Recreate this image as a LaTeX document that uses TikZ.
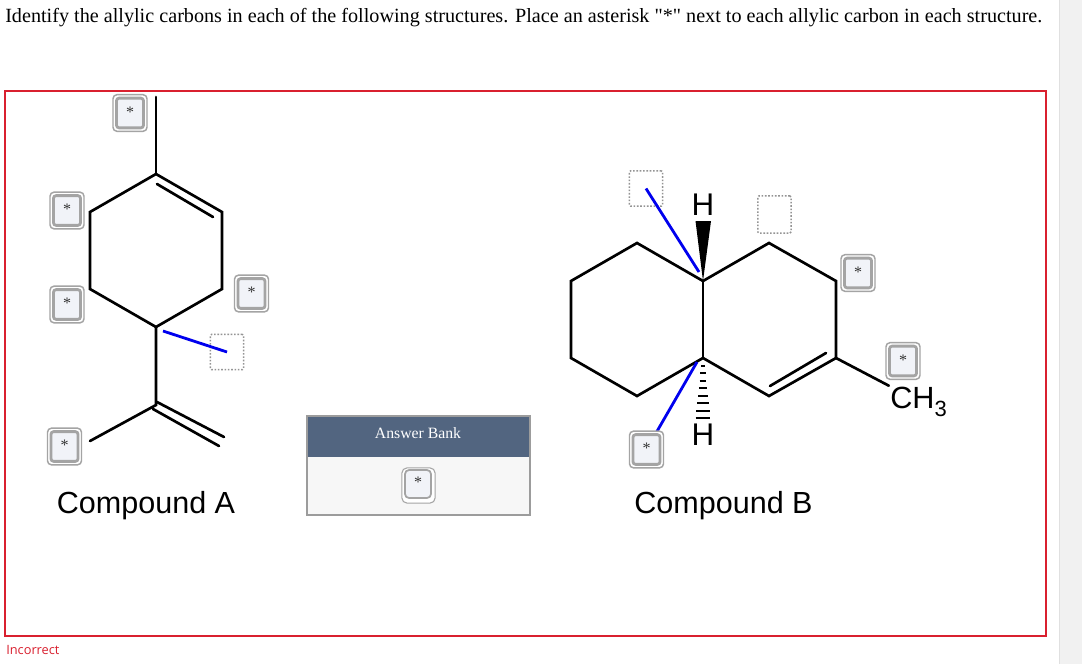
\documentclass[tikz,border=0pt]{standalone}
\usepackage{fontspec}
\setmainfont{Liberation Serif}
\setsansfont{Liberation Sans}
\newfontfamily\uifont{Open Sans}
\newfontfamily\qfont{Liberation Serif}
\definecolor{framered}{HTML}{D9202F}
\definecolor{tilegray}{HTML}{A4A4A4}
\definecolor{tilefill}{HTML}{F1F3F8}
\definecolor{bankhead}{HTML}{526580}
\definecolor{bankbody}{HTML}{F7F7F7}
\definecolor{bankline}{HTML}{9C9C9C}
\definecolor{bondblue}{HTML}{0000EE}
\tikzset{
  bond/.style={line width=2pt,line cap=round,line join=miter,black},
  bluebond/.style={line width=2.1pt,bondblue},
  hashbar/.style={line width=2pt,black},
  tile/.style={draw=tilegray,line width=1.1pt,rounded corners=3pt,fill=white,
    minimum width=25.5pt,minimum height=27.5pt,inner sep=0pt,
    font=\qfont\fontsize{12pt}{12pt}\selectfont,text=black!80,
    text height=11pt,text depth=5pt,
    path picture={\draw[tilegray,line width=2.1pt,fill=tilefill,rounded corners=2pt]
      ([shift={(2.6pt,2.6pt)}]path picture bounding box.south west) rectangle
      ([shift={(-2.6pt,-2.6pt)}]path picture bounding box.north east);}},
  dropbox/.style={draw=black!42,dash pattern=on 1.2pt off 1.3pt,line width=1.2pt,rounded corners=1pt,
    minimum width=25pt,minimum height=26.5pt,inner sep=0pt},
  atomtext/.style={font=\sffamily\fontsize{23.5pt}{26pt}\selectfont,inner sep=0pt,text=black},
  capt/.style={font=\sffamily\fontsize{22.9pt}{26pt}\selectfont,inner sep=0pt,text=black}
}
\begin{document}
\begin{tikzpicture}[x=.75pt,y=-.75pt]
\useasboundingbox (0,0) rectangle (1082,664);
\fill[white] (0,0) rectangle (1082,664);
% scrollbar
\fill[black!5.5] (1059,0) rectangle (1082,664);
\draw[black!12,line width=.75pt] (1059,0) -- (1059,664);
% question
\node[anchor=base west,inner sep=0pt,font=\qfont\fontsize{15.13pt}{17pt}\selectfont] (question) at (5,22)
  {Identify the allylic carbons in each of the following structures. Place an asterisk "*" next to each allylic carbon in each structure.};
% frame
\node[draw=framered,line width=1.5pt,anchor=north west,minimum width=780.7pt,minimum height=408.7pt,inner sep=0pt] (frame) at (4.2,90.2) {};
\node[anchor=base west,inner sep=0pt,text=framered,font=\uifont\fontsize{9.6pt}{11pt}\selectfont] (status) at (6,654) {Incorrect};

% compound A atoms
\coordinate (a1) at (156,174);
\coordinate (a2) at (222,212);
\coordinate (a3) at (222,289);
\coordinate (a4) at (156,327);
\coordinate (a5) at (90,289);
\coordinate (a6) at (90,212);
\coordinate (a7) at (156,97);
\coordinate (a8) at (156,405);
\coordinate (a9) at (90,441);
\coordinate (a1i) at (157,184);
\coordinate (a2i) at (213,217);
\coordinate (a8u) at (157,402);
\coordinate (a10u) at (224,437);
\coordinate (a8d) at (153,409);
\coordinate (a10d) at (219,446);
\coordinate (a4b) at (163,331);
\draw[bond] (a1) -- (a2) -- (a3) -- (a4) -- (a5) -- (a6) -- cycle;
\draw[bond] (a1i) -- (a2i);
\draw[bond] (a1) -- (a7);
\draw[bond] (a4) -- (a8) -- (a9);
\draw[bond] (a8u) -- (a10u);
\draw[bond] (a8d) -- (a10d);
\node[dropbox] (boxA) at (227,352) {};
\draw[bluebond] (a4b) -- (boxA.center);
\node[tile] (tileA1) at (130,113) {*};
\node[tile] (tileA2) at (67,210.5) {*};
\node[tile] (tileA3) at (67,304.5) {*};
\node[tile] (tileA4) at (251.5,293.5) {*};
\node[tile] (tileA5) at (64.5,446.5) {*};
\node[capt,anchor=base] (captA) at (146,513) {Compound A};

% answer bank
\fill[bankbody] (307,415) rectangle (530,514);
\fill[bankhead] (307,415) rectangle (530,457);
\node[draw=bankline,line width=1.5pt,anchor=north west,minimum width=167.2pt,minimum height=74.3pt,inner sep=0pt] (bank) at (306.4,414.5) {};
\node[text=white,font=\qfont\fontsize{11.8pt}{14pt}\selectfont,inner sep=0pt] (banktitle) at (418,433.5) {Answer Bank};
\node[draw=tilegray,line width=.8pt,rounded corners=4pt,fill=white,minimum width=25pt,minimum height=26.5pt,inner sep=0pt] (bankback) at (418.5,485.5) {};
\node[draw=tilegray,line width=1.3pt,rounded corners=3pt,fill=tilefill,minimum width=19.5pt,minimum height=21pt,inner sep=0pt,
  font=\qfont\fontsize{12pt}{12pt}\selectfont,text=black!80,text height=9.5pt,text depth=5pt] (banktile) at (418,484) {*};

% compound B atoms
\coordinate (b1) at (703,281);
\coordinate (b2) at (637,243);
\coordinate (b3) at (571,281);
\coordinate (b4) at (571,358);
\coordinate (b5) at (637,396);
\coordinate (b6) at (703,358);
\coordinate (b7) at (769,396);
\coordinate (b8) at (836,358);
\coordinate (b9) at (836,281);
\coordinate (b10) at (769,243);
\coordinate (b7i) at (770,386);
\coordinate (b8i) at (826,353);
\draw[bond] (b1) -- (b2) -- (b3) -- (b4) -- (b5) -- (b6) -- (b7) -- (b8) -- (b9) -- (b10) -- cycle;
\draw[bond] (b1) -- (b6);
\draw[bond] (b7i) -- (b8i);
\node[atomtext] (hup) at (703,204.5) {H};
\node[atomtext] (hdown) at (703,434.5) {H};
\node[atomtext,anchor=base west,font=\sffamily\fontsize{23pt}{26pt}\selectfont] (methyl) at (890,408) {CH\raisebox{-.27em}{\fontsize{16.5pt}{18pt}\selectfont 3}};
\draw[bond,shorten >=1pt] (b8) -- (methyl.north west);
\fill[black] (b1) -- (695.5,221) -- (711,221) -- cycle;
\foreach \yy/\hw in {366/1.7,373/2.6,381/3.4,388/4.2,396/5,403/5.8,411/6.6,418/7.4}
  \draw[hashbar] (703-\hw,\yy) -- (703+\hw,\yy);
\node[dropbox] (boxB1) at (646,188.5) {};
\node[dropbox,minimum height=28pt] (boxB2) at (774.5,214.5) {};
\coordinate (bs1) at (699,272);
\coordinate (bs2) at (697,362);
\coordinate (tileB1c) at (646.5,449.5);
\draw[bluebond] (boxB1.center) -- (bs1);
\draw[bluebond] (bs2) -- (tileB1c);
\node[tile] (tileB1) at (tileB1c) {*};
\node[tile] (tileB2) at (858,273) {*};
\node[tile] (tileB3) at (903,361) {*};
\node[capt,anchor=base] (captB) at (723.5,513) {Compound B};
\end{tikzpicture}
\end{document}
